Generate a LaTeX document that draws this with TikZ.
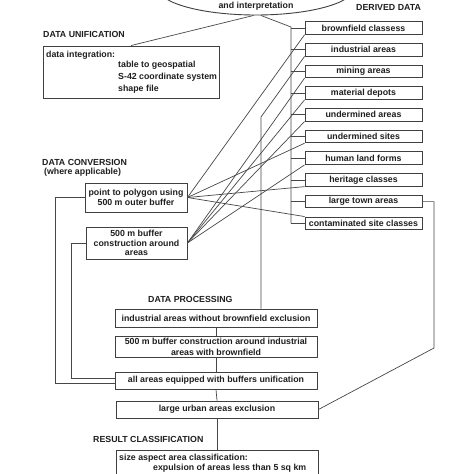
\documentclass[tikz,border=0pt]{standalone}
\usepackage{fontspec}
\setmainfont{Liberation Sans}
\usetikzlibrary{shapes.geometric}
\begin{document}
\begin{tikzpicture}[x=1pt,y=-1pt,
  txt/.style={font=\fontsize{8.8}{10}\selectfont\bfseries, text=black!88, inner sep=0pt},
  box/.style={txt, draw=black!75, line width=0.9pt, align=center},
  dbox/.style={box, minimum width=117pt, minimum height=12.6pt},
  pbox/.style={box, minimum width=202pt},
  lbl/.style={txt, anchor=west},
  ln/.style={draw=black!72, line width=0.7pt}]
\useasboundingbox (0,0) rectangle (474,474);
\clip (0,0) rectangle (474,474);
\fill[white] (0,0) rectangle (474,474);

% ellipse
\node[ellipse, draw=black!75, line width=0.9pt, minimum width=196pt, minimum height=54pt] (ell) at (256,-12) {};
\node[txt] (elltxt) at (256,6) {and interpretation};

% labels
\node[lbl] (lderived) at (356,7.5) {DERIVED DATA};
\node[lbl] (lunif) at (43,34) {DATA UNIFICATION};
\node[lbl] (lconv) at (42,162) {DATA CONVERSION};
\node[lbl] (lconv2) at (44,172) {(where applicable)};
\node[lbl] (lproc) at (148,299) {DATA PROCESSING};
\node[lbl] (lres) at (93,439) {RESULT CLASSIFICATION};

% derived data boxes
\node[dbox] (d0) at (363.5,28.0) {brownfield classess};
\node[dbox] (d1) at (363.5,49.7) {industrial areas};
\node[dbox] (d2) at (363.5,71.4) {mining areas};
\node[dbox] (d3) at (363.5,93.1) {material depots};
\node[dbox] (d4) at (363.5,114.8) {undermined areas};
\node[dbox] (d5) at (363.5,136.5) {undermined sites};
\node[dbox] (d6) at (363.5,158.2) {human land forms};
\node[dbox] (d7) at (363.5,179.9) {heritage classes};
\node[dbox] (d8) at (363.5,201.6) {large town areas};
\node[dbox] (d9) at (363.5,223.3) {contaminated site classes};

% data integration
\node[box, minimum width=176pt, minimum height=52pt] (di) at (131,72) {};
\node[lbl] (di0) at (46,55) {data integration:};
\node[lbl] (di1) at (118,65) {table to geospatial};
\node[lbl] (di2) at (118,77) {S-42 coordinate system};
\node[lbl] (di3) at (118,89) {shape file};

% conversion
\node[box, minimum width=102pt, minimum height=29pt] (ptp) at (136,197.5) {point to polygon using\\500 m outer buffer};
\node[box, font=\fontsize{8.8}{9.4}\selectfont\bfseries, minimum width=101pt, minimum height=32pt] (buf) at (136.5,243) {500 m buffer\\construction around\\areas};

% processing
\node[pbox, minimum height=18pt] (p1) at (216,318) {industrial areas without brownfield exclusion};
\node[pbox, font=\fontsize{8.8}{10.8}\selectfont\bfseries, minimum height=21pt] (p2) at (216,346.5) {500 m buffer construction around industrial\\areas with brownfield};
\node[pbox, minimum height=17pt] (un) at (216,380.5) {all areas equipped with buffers unification};
\node[pbox, minimum height=17pt] (lu) at (217,409.5) {large urban areas exclusion};
\node[pbox, minimum height=50pt] (sz) at (217,475) {};
\node[lbl] (sz0) at (119,458.5) {size aspect area classification:};
\node[lbl] (sz1) at (153,468.5) {expulsion of areas less than 5 sq km};

% connectors from ellipse
\coordinate (brk) at (291,27);
\draw[ln] (ell.-95) -- (di.north);
\draw[ln] (ell.-80) -- (brk) -- (brk |- d9.west);
\foreach \n in {d0,d1,d2,d3,d4,d5,d6,d7,d8,d9}
  \draw[ln] (brk |- \n.west) -- (\n.west);

% industrial areas to processing
\coordinate (vt) at (261,117);
\draw[ln] (d1.south west) -- (vt) -- (vt |- p1.north);

% derived -> conversion
\foreach \n/\a in {d0/south west, d5/south west, d7/south west, d9/north west}
  \draw[ln] (\n.\a) -- (ptp.east);
\foreach \n in {d2,d3,d4,d6}
  \draw[ln] (\n.south west) -- (buf.east);

% large town areas
\coordinate (lt) at (434,348);
\draw[ln] (d8.east) -- (d8.east -| lt) -- (lt) -- (lu.east);

% conversion -> unification
\coordinate (la) at (55,383);
\coordinate (lb) at (71,378);
\draw[ln] (ptp.west) -- (ptp.west -| la) -- (la) -- (la -| un.west);
\draw[ln] (buf.west) -- (buf.west -| lb) -- (lb) -- (lb -| un.west);

% processing chain
\draw[ln] (p1.south) -- (p2.north);
\draw[ln] (p2.south) -- (un.north);
\draw[ln] (un.south) -- (lu.north);
\draw[ln] (lu.south) -- (sz.north);
\end{tikzpicture}
\end{document}
